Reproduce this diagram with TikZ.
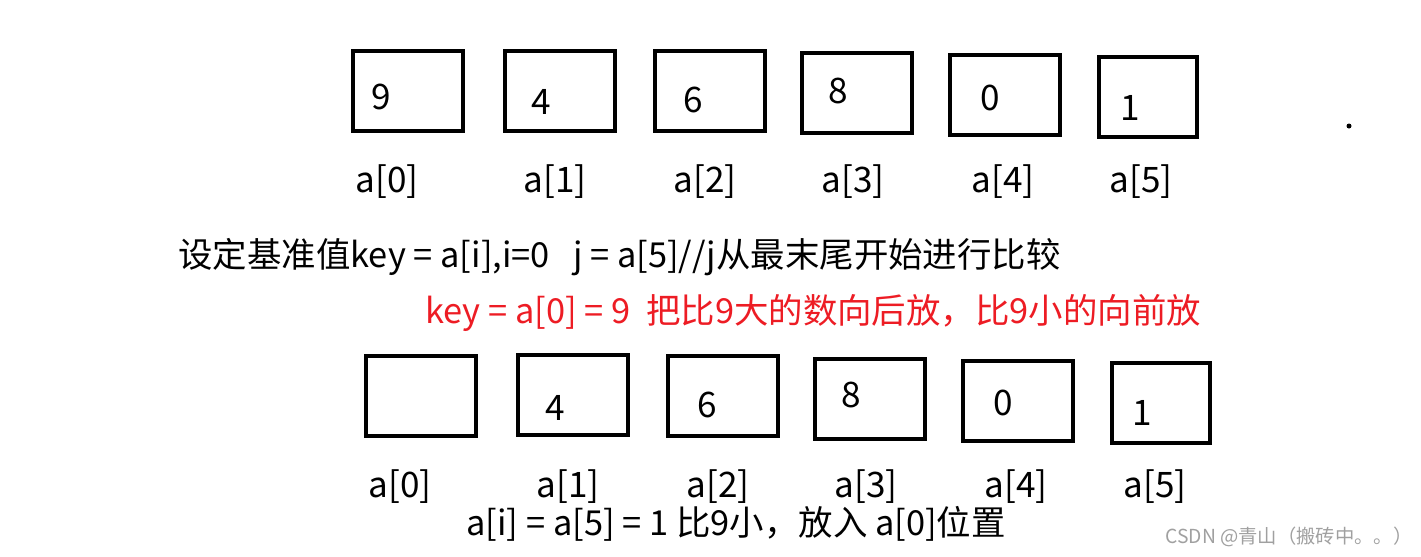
\documentclass[tikz,border=0pt]{standalone}
\usepackage{fontspec}
\setmainfont{Noto Sans CJK SC}
\usetikzlibrary{positioning}
\definecolor{keyred}{RGB}{237,28,36}
\definecolor{markgray}{RGB}{160,160,160}

\begin{document}
\begin{tikzpicture}[
            x=0.02cm, y=-0.02cm,
            cell/.style={draw, line width=2.8pt, minimum width=2.2cm, minimum height=1.6cm, inner sep=0pt},
            lastcell/.style={cell, minimum width=1.96cm},
            val/.style={font=\fontsize{20}{23}\selectfont, inner sep=0pt},
            idx/.style={font=\fontsize{20}{23}\selectfont, inner sep=0pt},
            note/.style={font=\fontsize{19.6}{23}\selectfont, anchor=west, inner sep=0pt}
          ]
        \useasboundingbox (0,0) rectangle (1421,556);

        % array before
        \node[cell] (b0) at (408,91) {};
        \node[cell] (b1) at (560,91) {};
        \node[cell] (b2) at (710,91) {};
        \node[cell] (b3) at (857,93) {};
        \node[cell] (b4) at (1005,95) {};
        \node[lastcell] (b5) at (1148,97) {};
        \node[val] (v0) at (381,97) {9};
        \node[val] (v1) at (541,102) {4};
        \node[val] (v2) at (693,100) {6};
        \node[val] (v3) at (838,91) {8};
        \node[val] (v4) at (990,98) {0};
        \node[val] (v5) at (1130,108) {1};
        \node[idx] (i0) at (387,182) {a[0]};
        \node[idx] (i1) at (555,182) {a[1]};
        \node[idx] (i2) at (705,182) {a[2]};
        \node[idx] (i3) at (853,182) {a[3]};
        \node[idx] (i4) at (1003,182) {a[4]};
        \node[idx] (i5) at (1141,182) {a[5]};
        \fill (1349,126) circle (0.05cm);

        \node[note] (rule) at (178,257) {设定基准值key = a[i],i=0\ \ \ j = a[5]//j从最末尾开始进行比较};
        \node[note, text=keyred] (key) at (425,313) {key = a[0] = 9\ \ 把比9大的数向后放，比9小的向前放};

        % array after
        \node[cell] (c0) at (421,396) {};
        \node[cell] (c1) at (573,395) {};
        \node[cell] (c2) at (723,396) {};
        \node[cell] (c3) at (870,399) {};
        \node[cell] (c4) at (1018,401) {};
        \node[lastcell] (c5) at (1161,403) {};
        \node[val] (w1) at (555,408) {4};
        \node[val] (w2) at (707,405) {6};
        \node[val] (w3) at (851,395) {8};
        \node[val] (w4) at (1003,403) {0};
        \node[val] (w5) at (1142,413) {1};
        \node[idx] (j0) at (400,487) {a[0]};
        \node[idx] (j1) at (568,487) {a[1]};
        \node[idx] (j2) at (718,487) {a[2]};
        \node[idx] (j3) at (866,487) {a[3]};
        \node[idx] (j4) at (1016,487) {a[4]};
        \node[idx] (j5) at (1155,487) {a[5]};

        \node[note] (move) at (466,524) {a[i] = a[5] = 1 比9小，放入 a[0]位置};
        \node[note, font=\fontsize{11}{13}\selectfont, text=markgray] (mark) at (1165,537) {CSDN @青山（搬砖中。。）};

        \end{tikzpicture}
\end{document}
